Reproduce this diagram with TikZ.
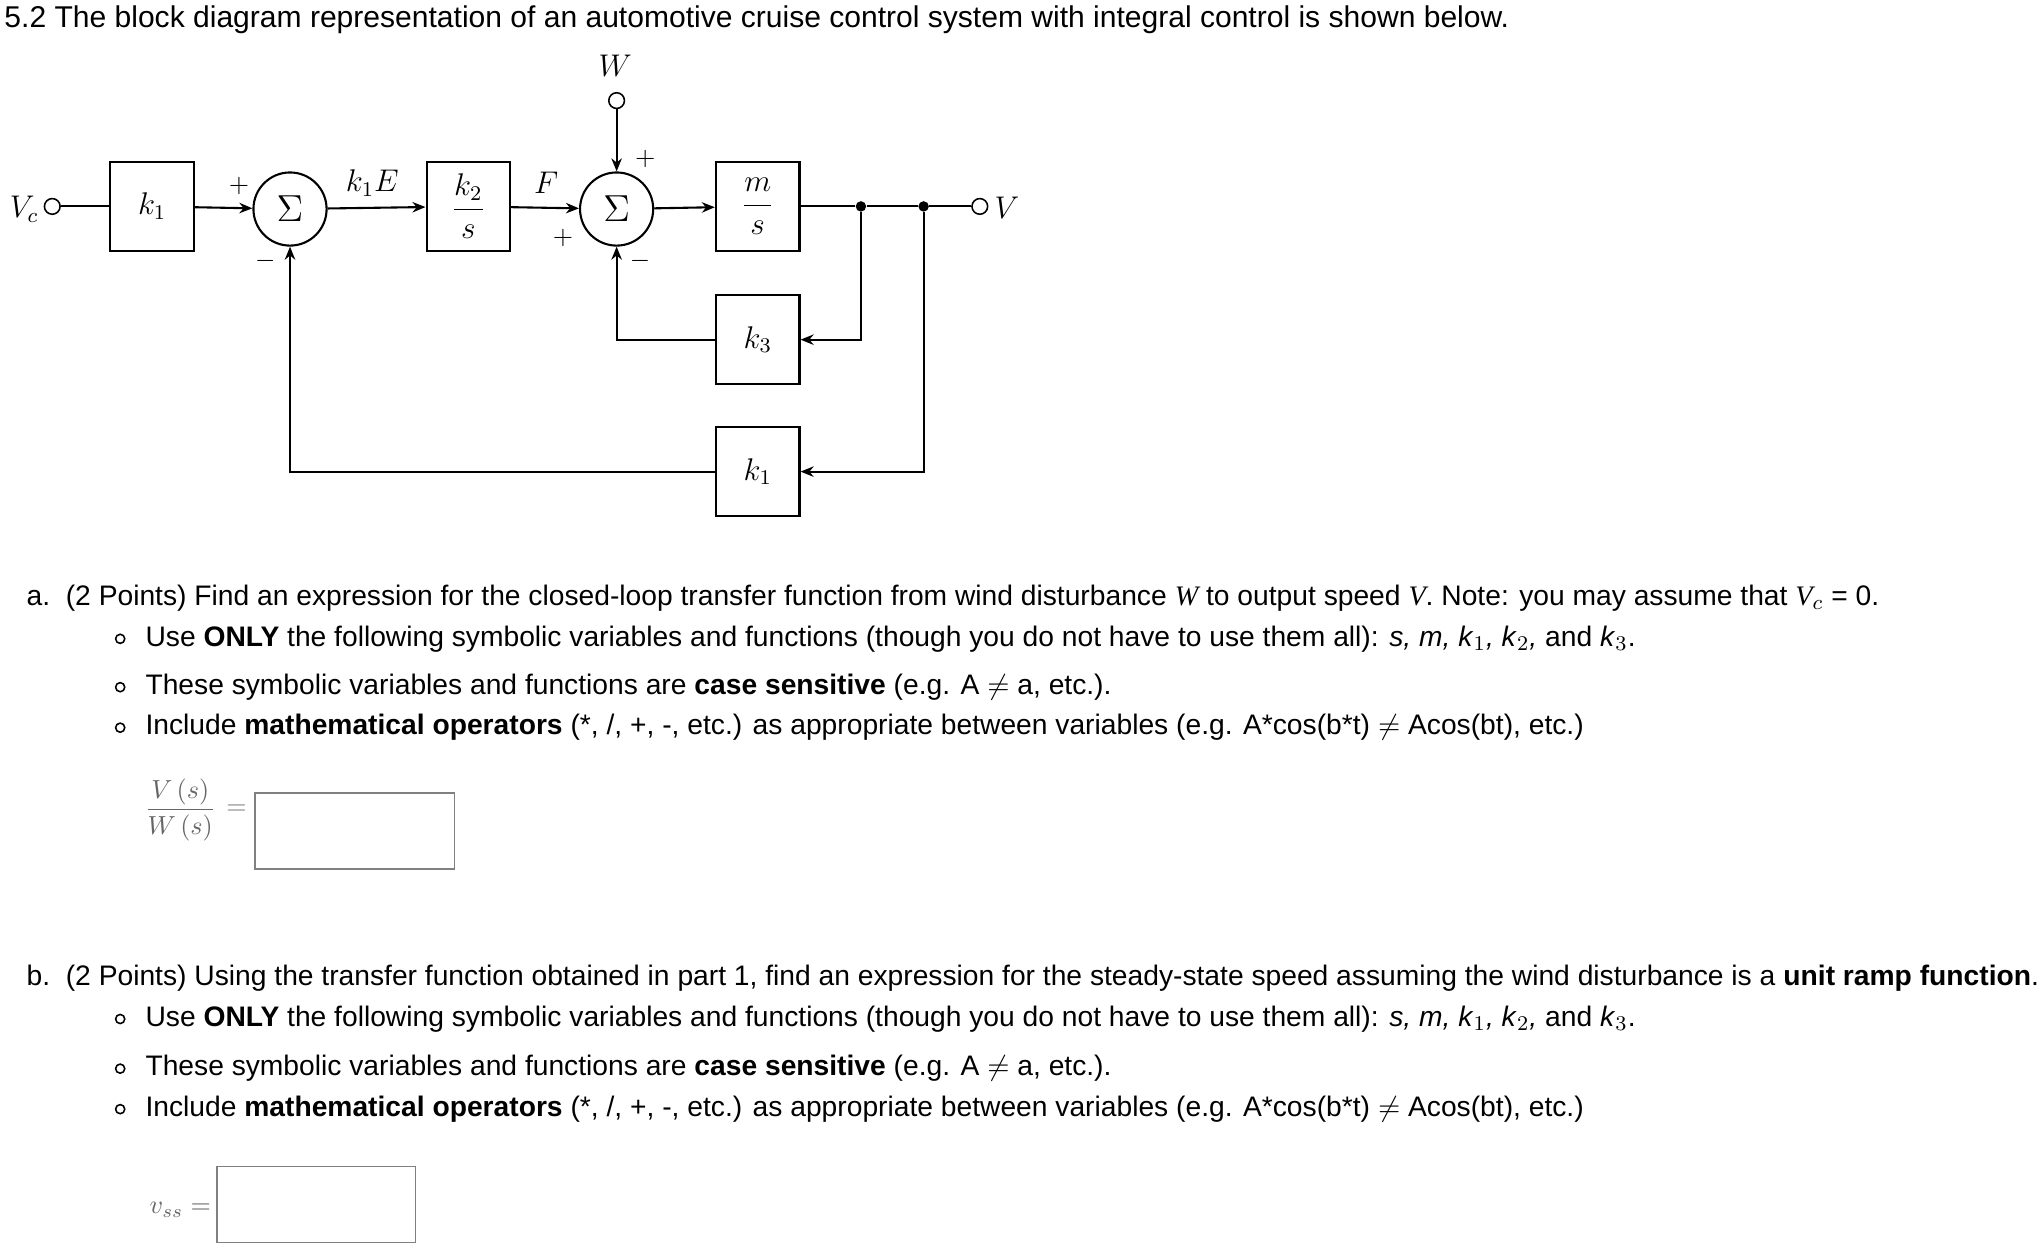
\documentclass[tikz,border=0pt]{standalone}
\usepackage{fontspec}
\setmainfont{Liberation Sans}
\newfontfamily\dfont{Liberation Serif}
\usetikzlibrary{arrows.meta}
\begin{document}
\begin{tikzpicture}[x=0.5pt,y=-0.5pt,
  blk/.style={draw,line width=0.8pt,minimum width=32pt,minimum height=34pt,inner sep=0pt,font=\large},
  sumn/.style={draw,circle,line width=0.8pt,minimum size=28pt,inner sep=0pt,font=\Large},
  term/.style={draw,circle,minimum size=6pt,inner sep=0pt,line width=0.6pt},
  dot/.style={fill,circle,minimum size=4pt,inner sep=0pt},
  sig/.style={line width=0.8pt},
  arr/.style={sig,-{Stealth[length=5pt,width=4pt]}},
  txt/.style={anchor=west,inner sep=0pt,font=\fontsize{10.8}{13}\selectfont},
  bul/.style={draw,circle,minimum size=3.5pt,inner sep=0pt,line width=0.6pt},
  ansbox/.style={draw=gray,line width=0.6pt,anchor=north west,inner sep=0pt}]
\useasboundingbox (0,0) rectangle (1560,958);
\node[txt,font=\fontsize{11.5}{13}\selectfont] (title) at (3,15) {5.2 The block diagram representation of an automotive cruise control system with integral control is shown below.};
% diagram
\node[term] (vc) at (40,158) {};
\node[anchor=east,inner sep=1pt,font=\large] (vcl) at (32,160) {$V_c$};
\node[blk] (k1a) at (116.5,158) {$k_1$};
\node[sumn] (s1) at (222,160) {$\Sigma$};
\node[blk] (k2) at (358.5,158) {$\displaystyle\frac{k_2}{s}$};
\node[sumn] (s2) at (472,160) {$\Sigma$};
\node[blk] (ms) at (580,158) {$\displaystyle\frac{m}{s}$};
\node[blk] (k3) at (580,260) {$k_3$};
\node[blk] (k1b) at (580,361) {$k_1$};
\node[term] (w) at (472,77) {};
\node[inner sep=1pt,font=\large] (wl) at (471,50) {$W$};
\node[dot] (j1) at (659,158) {};
\node[dot] (j2) at (707,158) {};
\node[term] (vo) at (750,158) {};
\node[anchor=west,inner sep=1pt,font=\large] (vl) at (759,159) {$V$};
\node[font=\large] (k1e) at (285,140) {$k_1E$};
\node[font=\large] (fl) at (418,140) {$F$};
\node (p1) at (183,142) {$+$};
\node (m1) at (203,200) {$-$};
\node (p2) at (494,122) {$+$};
\node (p3) at (431,182) {$+$};
\node (m2) at (490,200) {$-$};
\draw[sig] (vc) -- (k1a);
\draw[arr] (k1a) -- (s1);
\draw[arr] (s1) -- (k2);
\draw[arr] (k2) -- (s2);
\draw[arr] (w) -- (s2);
\draw[arr] (s2) -- (ms);
\draw[sig] (ms.east |- 0,158) -- (j1) -- (j2) -- (vo);
\draw[arr] (j1) |- (k3);
\draw[arr] (j2) |- (k1b);
\draw[arr] (k3) -| (s2);
\draw[arr] (k1b) -| (s1);
% text a
\node[txt] (la) at (20,458) {a.\ \ (2 Points) Find an expression for the closed-loop transfer function from wind disturbance {\dfont\itshape W} to output speed {\dfont\itshape V}. Note: you may assume that {\dfont\itshape V}$_c$ = 0.};
\node[bul] (ba1) at (92,489) {};
\node[txt] (ta1) at (111,489) {Use \textbf{ONLY} the following symbolic variables and functions (though you do not have to use them all): \textit{s, m, k}$_1$\textit{, k}$_2$\textit{,} and \textit{k}$_3$.};
\node[bul] (ba2) at (92,526) {};
\node[txt] (ta2) at (111,526) {These symbolic variables and functions are \textbf{case sensitive} (e.g. A $\neq$ a, etc.).};
\node[bul] (ba3) at (92,557) {};
\node[txt] (ta3) at (111,557) {Include \textbf{mathematical operators} (*, /, +, -, etc.) as appropriate between variables (e.g. A*cos(b*t) $\neq$ Acos(bt), etc.)};
\node[text=gray!80!black] (fr) at (138,620) {$\displaystyle\frac{V\,(s)}{W\,(s)}$};
\node[text=gray] (eq1) at (181,620) {$=$};
\draw[ansbox] (195,607) rectangle (348,665);
% text b
\node[txt] (lb) at (20,749) {b.\ \ (2 Points) Using the transfer function obtained in part 1, find an expression for the steady-state speed assuming the wind disturbance is a \textbf{unit ramp function}.};
\node[bul] (bb1) at (92,780) {};
\node[txt] (tb1) at (111,780) {Use \textbf{ONLY} the following symbolic variables and functions (though you do not have to use them all): \textit{s, m, k}$_1$\textit{, k}$_2$\textit{,} and \textit{k}$_3$.};
\node[bul] (bb2) at (92,818) {};
\node[txt] (tb2) at (111,818) {These symbolic variables and functions are \textbf{case sensitive} (e.g. A $\neq$ a, etc.).};
\node[bul] (bb3) at (92,849) {};
\node[txt] (tb3) at (111,849) {Include \textbf{mathematical operators} (*, /, +, -, etc.) as appropriate between variables (e.g. A*cos(b*t) $\neq$ Acos(bt), etc.)};
\node[text=gray!80!black] (vss) at (138,926) {$v_{ss}=$};
\draw[ansbox] (166,893) rectangle (318,951);
\end{tikzpicture}
\end{document}
